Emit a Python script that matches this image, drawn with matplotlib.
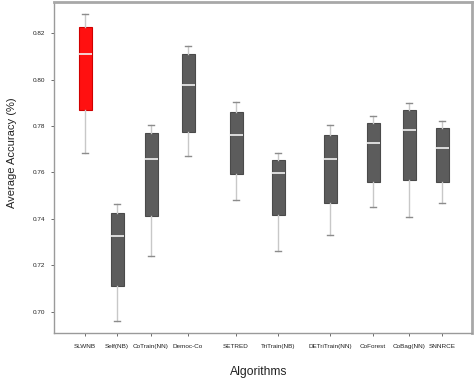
import numpy as np
import matplotlib
matplotlib.use('Agg')
from matplotlib import pyplot as plt

plt.rcParams['font.family'] = ['Liberation Sans', 'DejaVu Sans']

algorithms = ['SLWNB', 'Self(NB)', 'CoTrain(NN)', 'Democ-Co', 'SETRED',
              'TriTrain(NB)', 'DETriTrain(NN)', 'CoForest', 'CoBag(NN)', 'SNNRCE']
# category placement along the x axis (uneven in the original figure)
positions = [85, 117, 151, 188, 236, 278, 330, 373, 409, 442]

whislo = [0.7683, 0.6960, 0.7238, 0.7671, 0.7481, 0.7262, 0.7332, 0.7450, 0.7408, 0.7470]
q1 = [0.7868, 0.7111, 0.7413, 0.7776, 0.7592, 0.7417, 0.7467, 0.7559, 0.7569, 0.7558]
med = [0.8112, 0.7328, 0.7658, 0.7977, 0.7760, 0.7599, 0.7658, 0.7728, 0.7784, 0.7707]
q3 = [0.8226, 0.7425, 0.7769, 0.8109, 0.7862, 0.7654, 0.7762, 0.7815, 0.7868, 0.7792]
whishi = [0.8283, 0.7464, 0.7805, 0.8145, 0.7904, 0.7685, 0.7806, 0.7842, 0.7901, 0.7822]

stats = [dict(label=a, whislo=lo, q1=a1, med=m, q3=a3, whishi=hi)
         for a, lo, a1, m, a3, hi in zip(algorithms, whislo, q1, med, q3, whishi)]

fig = plt.figure(figsize=(4.74, 3.78), dpi=100)
ax = fig.add_axes([0.114, 0.119, 0.882, 0.876])

bp = ax.bxp(stats, positions=positions, widths=13, showfliers=False,
            patch_artist=True,
            boxprops=dict(facecolor='#5c5c5c', edgecolor='#4a4a4a', lw=0.8),
            medianprops=dict(color='#f2f2f2', lw=1.2),
            whiskerprops=dict(color='#c8c8c8', lw=1),
            capprops=dict(color='#8c8c8c', lw=1))
bp['boxes'][0].set_facecolor('#ff1010')
bp['boxes'][0].set_edgecolor('#d00000')

ax.set_xlim(54, 472)
ax.set_ylim(0.6908, 0.8335)
ax.set_yticks([0.70, 0.72, 0.74, 0.76, 0.78, 0.80, 0.82])
ax.set_yticklabels(['0.70', '0.72', '0.74', '0.76', '0.78', '0.80', '0.82'])
ax.tick_params(axis='both', labelsize=4.6, colors='#555555', length=2.2,
               width=0.6, labelcolor='#222222')
ax.tick_params(axis='y', pad=4.3)
ax.tick_params(axis='x', pad=5.5)

for side in ['left', 'bottom']:
    ax.spines[side].set_color('#9a9a9a')
    ax.spines[side].set_linewidth(1.0)
for side in ['top', 'right']:
    ax.spines[side].set_color('#a8a8a8')
    ax.spines[side].set_linewidth(2.0)

ax.set_ylabel('Average Accuracy (%)', fontsize=8, color='#222222')
ax.yaxis.set_label_coords(-0.088, 0.544)
ax.set_xlabel('Algorithms', fontsize=8.7, color='#222222')
ax.xaxis.set_label_coords(0.49, -0.1)

fig.savefig('out.png', dpi=100)
